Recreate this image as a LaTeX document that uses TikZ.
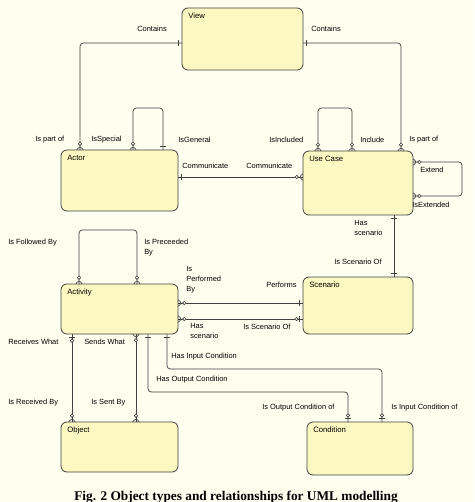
\documentclass[tikz,border=0pt]{standalone}
\usepackage{fontspec}
\setmainfont{Liberation Sans}
\newfontfamily\capfont{Liberation Serif}
\usetikzlibrary{calc}
\usetikzlibrary{decorations.markings}

\definecolor{bgcol}{HTML}{FFFFF0}
\definecolor{boxfill}{HTML}{FCF8C2}
\definecolor{linecol}{HTML}{404040}

% end markers, drawn in the local frame of the path end
\newcommand{\mzmany}{\draw[linecol,line width=0.5pt] (0,2.4pt) -- (-3.4pt,0) -- (0,-2.4pt);
  \draw[linecol,line width=0.5pt,fill=bgcol] (-4.7pt,0) circle (1.3pt);}
\newcommand{\mone}{\draw[linecol,line width=0.5pt] (-2.6pt,2.3pt) -- (-2.6pt,-2.3pt);}
\newcommand{\mzone}{\mone
  \draw[linecol,line width=0.5pt,fill=bgcol] (-4.9pt,0) circle (1.3pt);}

\tikzset{
  entity/.style n args={3}{draw=linecol, line width=0.6pt, rounded corners=4.5pt, fill=boxfill,
    inner sep=0pt, outer sep=0pt, minimum width=#1*0.75pt, minimum height=#2*0.75pt,
    label={[anchor=north west, inner sep=0pt, xshift=4.5pt, yshift=-3.8pt, font=\fontsize{5.8}{7}\selectfont]north west:#3}},
  rel/.style={draw=linecol, line width=0.55pt, rounded corners=2.5pt},
  lbl/.style={font=\fontsize{5.6}{7.5}\selectfont, inner sep=0pt, align=left, anchor=west},
  lbltop/.style={lbl, anchor=north west},
  zmany end/.style={postaction={decorate, decoration={markings, mark=at position -0.01pt with {\mzmany}}}},
  zmany start/.style={postaction={decorate, decoration={markings, mark=at position 0.01pt with {\begin{scope}[xscale=-1]\mzmany\end{scope}}}}},
  one end/.style={postaction={decorate, decoration={markings, mark=at position -0.01pt with {\mone}}}},
  one start/.style={postaction={decorate, decoration={markings, mark=at position 0.01pt with {\begin{scope}[xscale=-1]\mone\end{scope}}}}},
  zone end/.style={postaction={decorate, decoration={markings, mark=at position -0.01pt with {\mzone}}}},
  zone start/.style={postaction={decorate, decoration={markings, mark=at position 0.01pt with {\begin{scope}[xscale=-1]\mzone\end{scope}}}}}
}

\begin{document}
\begin{tikzpicture}[x=0.75pt,y=-0.75pt]
  \useasboundingbox[fill=bgcol] (0,0) rectangle (474,502);

  % object types
  \node[entity={121}{62}{View}] (view) at (242.5,39) {};
  \node[entity={117}{61}{Actor}] (actor) at (119.5,180.5) {};
  \node[entity={110}{64}{Use Case}] (usecase) at (358,183) {};
  \node[entity={117}{50}{Activity}] (activity) at (119.5,309) {};
  \node[entity={110}{57}{Scenario}] (scenario) at (358,305.5) {};
  \node[entity={117}{50}{Object}] (object) at (119.5,447) {};
  \node[entity={106}{53}{Condition}] (condition) at (360,448.5) {};

  % relationships
  \draw[rel, zmany start, one end] ($(actor.north west)+(19,0)$) |- ($(view.west)+(0,4)$);
  \draw[rel, one start, zmany end] ($(view.east)+(0,4)$) -| ($(usecase.north east)+(-12,0)$);
  \draw[rel, zmany start, one end] ($(actor.north west)+(72,0)$) -- ++(0,-42) -| ($(actor.north west)+(102,0)$);
  \draw[rel, zmany start, zmany end] ($(usecase.north west)+(15,0)$) -- ++(0,-43) -| ($(usecase.north west)+(49,0)$);
  \draw[rel, zmany start, zmany end] ($(usecase.north east)+(0,11)$) -- ++(49,0) |- ($(usecase.north east)+(0,45)$);
  \draw[rel, one start, zmany end] ($(actor.east)+(0,-3.5)$) coordinate (cm) -- (cm -| usecase.west);
  \draw[rel, one start, one end] ($(usecase.south east)+(-19,0)$) -- ($(scenario.north east)+(-19,0)$);
  \draw[rel, zmany start, zmany end] ($(activity.north west)+(18,0)$) -- ++(0,-54) -| ($(activity.north west)+(76,0)$);
  \draw[rel, zmany start, one end] ($(activity.east)+(0,-6)$) coordinate (pf) -- (pf -| scenario.west);
  \draw[rel, zmany start, zone end] ($(activity.east)+(0,10)$) coordinate (hs) -- (hs -| scenario.west);
  \draw[rel, zone start, zmany end] ($(activity.south west)+(11,0)$) -- ($(object.north west)+(11,0)$);
  \draw[rel, zmany start, zmany end] ($(activity.south west)+(75,0)$) -- ($(object.north west)+(75,0)$);
  \draw[rel, one start, zone end] ($(activity.south west)+(87,0)$) -- ++(0,58) -| ($(condition.north west)+(41,0)$);
  \draw[rel, one start, zone end] ($(activity.south west)+(106,0)$) -- ++(0,35) -| ($(condition.north west)+(75,0)$);

  % role names
  \node[lbl] (contl) at (137,29) {Contains};
  \node[lbl] (contr) at (311,29) {Contains};
  \node[lbl] (partl) at (35,140) {Is part of};
  \node[lbl] (spec) at (91,140) {IsSpecial};
  \node[lbl] (gen) at (178,140) {IsGeneral};
  \node[lbl] (incd) at (269,140) {IsIncluded};
  \node[lbl] (inc) at (360,140) {Include};
  \node[lbl] (partr) at (409,140) {Is part of};
  \node[lbl] (coml) at (182,166) {Communicate};
  \node[lbl] (comr) at (246,166) {Communicate};
  \node[lbl] (ext) at (420,170) {Extend};
  \node[lbl] (extd) at (412,205) {IsExtended};
  \node[lbltop] (hsu) at (354,220) {Has\\scenario};
  \node[lbl] (isou) at (334,262) {Is Scenario Of};
  \node[lbl] (fol) at (8,243) {Is Followed By};
  \node[lbltop] (pre) at (144,239) {Is Preceeded\\ By};
  \node[lbltop] (perby) at (186,266) {Is\\Performed\\By};
  \node[lbl] (perf) at (266,285) {Performs};
  \node[lbltop] (hsa) at (190,323) {Has\\scenario};
  \node[lbl] (isoa) at (243,327) {Is Scenario Of};
  \node[lbl] (rec) at (8,342) {Receives What};
  \node[lbl] (snd) at (84,342) {Sends What};
  \node[lbl] (hin) at (171,357) {Has Input Condition};
  \node[lbl] (hout) at (156,380) {Has Output Condition};
  \node[lbl] (recby) at (8,403) {Is Received By};
  \node[lbl] (sntby) at (91,403) {Is Sent By};
  \node[lbl] (isout) at (262,408) {Is Output Condition of};
  \node[lbl] (isin) at (391,408) {Is Input Condition of};

  \node[font=\capfont\bfseries\fontsize{10}{12}\selectfont, inner sep=0pt] (caption) at (236,497) {Fig. 2 Object types and relationships for UML modelling};
\end{tikzpicture}
\end{document}
